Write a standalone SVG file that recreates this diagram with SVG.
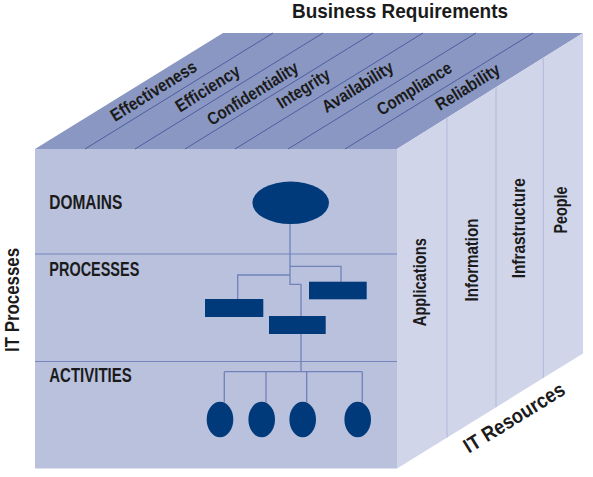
<svg xmlns="http://www.w3.org/2000/svg" width="593" height="477" viewBox="0 0 593 477">
<style>
.lbl{font-family:"Liberation Sans",Arial,sans-serif;font-weight:bold;fill:#1b1b1b}
.top{font-size:17.5px}
.side{font-size:18.5px}
.row{font-size:19.5px}
.big{font-size:20.5px}
.tl{stroke:#4b5fa0;stroke-width:1}
.rl{stroke:#b0b9da;stroke-width:1}
.fl{stroke:#7587bd;stroke-width:1.2}
.node{fill:#003a7a}
.conn{stroke:#7082b9;stroke-width:1.3;fill:none}
</style>
<rect width="593" height="477" fill="#ffffff"/>
<g id="cube">
<polygon id="top-face" points="35,149 223,33 583,33 397,149" fill="#8a97c2"/>
<rect id="front-face" x="35" y="149" width="362" height="319.5" fill="#b9c1dd"/>
<polygon id="right-face" points="397,149 583,33 583,353.5 397,468.5" fill="#d1d5ea"/>
<g id="top-dividers">
<line class="tl" x1="85" y1="149" x2="273" y2="33"/>
<line class="tl" x1="135" y1="149" x2="323" y2="33"/>
<line class="tl" x1="185" y1="149" x2="373" y2="33"/>
<line class="tl" x1="235" y1="149" x2="423" y2="33"/>
<line class="tl" x1="288" y1="149" x2="476" y2="33"/>
<line class="tl" x1="345" y1="149" x2="533" y2="33"/>
</g>
<g id="right-dividers">
<line class="rl" x1="447" y1="118" x2="447" y2="437.6"/>
<line class="rl" x1="496" y1="87.3" x2="496" y2="407.2"/>
<line class="rl" x1="543.3" y1="57.8" x2="543.3" y2="378"/>
</g>
<g id="front-dividers">
<line class="fl" x1="35" y1="254" x2="397" y2="254"/>
<line class="fl" x1="35" y1="361.5" x2="397" y2="361.5"/>
</g>
</g>
<g id="titles">
<text class="lbl big" x="292" y="17.8" textLength="216" lengthAdjust="spacingAndGlyphs">Business Requirements</text>
<text class="lbl big" x="18.6" y="300" text-anchor="middle" transform="rotate(-90 18.6 300)" textLength="104" lengthAdjust="spacingAndGlyphs">IT Processes</text>
<text class="lbl big" x="514" y="417.5" dy="0.35em" text-anchor="middle" transform="rotate(-31.7 514 417.5)" textLength="115" lengthAdjust="spacingAndGlyphs">IT Resources</text>
</g>
<g id="requirements">
<text class="lbl top" x="153.3" y="90.8" dy="0.35em" text-anchor="middle" transform="rotate(-32 153.3 90.8)" textLength="98" lengthAdjust="spacingAndGlyphs">Effectiveness</text>
<text class="lbl top" x="207.5" y="88.3" dy="0.35em" text-anchor="middle" transform="rotate(-32 207.5 88.3)" textLength="72.5" lengthAdjust="spacingAndGlyphs">Efficiency</text>
<text class="lbl top" x="252.5" y="93.3" dy="0.35em" text-anchor="middle" transform="rotate(-32 252.5 93.3)" textLength="104" lengthAdjust="spacingAndGlyphs">Confidentiality</text>
<text class="lbl top" x="303.3" y="88.3" dy="0.35em" text-anchor="middle" transform="rotate(-32 303.3 88.3)" textLength="59" lengthAdjust="spacingAndGlyphs">Integrity</text>
<text class="lbl top" x="357.5" y="86.7" dy="0.35em" text-anchor="middle" transform="rotate(-32 357.5 86.7)" textLength="80.5" lengthAdjust="spacingAndGlyphs">Availability</text>
<text class="lbl top" x="414.2" y="88.3" dy="0.35em" text-anchor="middle" transform="rotate(-32 414.2 88.3)" textLength="84.5" lengthAdjust="spacingAndGlyphs">Compliance</text>
<text class="lbl top" x="467.5" y="86.7" dy="0.35em" text-anchor="middle" transform="rotate(-32 467.5 86.7)" textLength="72.5" lengthAdjust="spacingAndGlyphs">Reliability</text>
</g>
<g id="resources">
<text class="lbl side" x="426" y="282.2" text-anchor="middle" transform="rotate(-90 426 282.2)" textLength="88" lengthAdjust="spacingAndGlyphs">Applications</text>
<text class="lbl side" x="477.7" y="260" text-anchor="middle" transform="rotate(-90 477.7 260)" textLength="83" lengthAdjust="spacingAndGlyphs">Information</text>
<text class="lbl side" x="525" y="228.3" text-anchor="middle" transform="rotate(-90 525 228.3)" textLength="100" lengthAdjust="spacingAndGlyphs">Infrastructure</text>
<text class="lbl side" x="566.5" y="210" text-anchor="middle" transform="rotate(-90 566.5 210)" textLength="47" lengthAdjust="spacingAndGlyphs">People</text>
</g>
<g id="levels">
<text class="lbl row" x="49.3" y="209.3" textLength="73" lengthAdjust="spacingAndGlyphs">DOMAINS</text>
<text class="lbl row" x="49.3" y="275.7" textLength="90" lengthAdjust="spacingAndGlyphs">PROCESSES</text>
<text class="lbl row" x="49.3" y="381.7" textLength="82.4" lengthAdjust="spacingAndGlyphs">ACTIVITIES</text>
</g>
<g id="connectors">
<polyline class="conn" points="290,222 290,284.3 301,284.3 301,316"/>
<polyline class="conn" points="290,266.3 341,266.3 341,281.7"/>
<polyline class="conn" points="290,275 237.7,275 237.7,299"/>
<line class="conn" x1="301" y1="334" x2="301" y2="371.7"/>
<line class="conn" x1="224.3" y1="371.7" x2="362.3" y2="371.7"/>
<line class="conn" x1="224.3" y1="371.7" x2="224.3" y2="402.5"/>
<line class="conn" x1="266" y1="371.7" x2="266" y2="402.5"/>
<line class="conn" x1="306.7" y1="371.7" x2="306.7" y2="402.5"/>
<line class="conn" x1="362.3" y1="371.7" x2="362.3" y2="402.5"/>
</g>
<g id="domain">
<ellipse class="node" cx="290.7" cy="202.8" rx="38.3" ry="21.2"/>
</g>
<g id="process-1">
<rect class="node" x="205" y="299" width="58.3" height="18"/>
</g>
<g id="process-2">
<rect class="node" x="269" y="316" width="56.7" height="18"/>
</g>
<g id="process-3">
<rect class="node" x="309" y="281.7" width="57.7" height="17.6"/>
</g>
<g id="activity-1">
<ellipse class="node" cx="220" cy="419.5" rx="13.3" ry="17.8"/>
</g>
<g id="activity-2">
<ellipse class="node" cx="261.7" cy="419.5" rx="13.3" ry="17.8"/>
</g>
<g id="activity-3">
<ellipse class="node" cx="302.7" cy="419.5" rx="13.3" ry="17.8"/>
</g>
<g id="activity-4">
<ellipse class="node" cx="357.7" cy="419.5" rx="13.3" ry="17.8"/>
</g>
</svg>
